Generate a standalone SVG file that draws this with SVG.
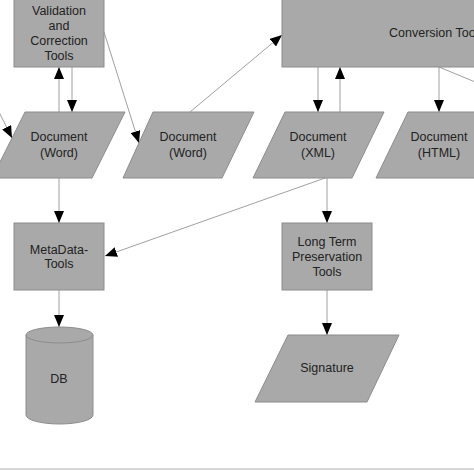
<svg xmlns="http://www.w3.org/2000/svg" width="474" height="474" viewBox="0 0 474 474">
<defs>
<marker id="ah" markerUnits="userSpaceOnUse" markerWidth="12" markerHeight="10" viewBox="0 0 12 10" refX="12" refY="5" orient="auto">
<path d="M0,0 L12,5 L0,10 Z" fill="#000"/>
</marker>
<style>
.n{fill:#a9a9a9;stroke:#8c8c8c;stroke-width:1}
.t{font-family:"Liberation Sans",Arial,sans-serif;font-size:12.5px;fill:#222;text-anchor:middle}
.c{fill:none;stroke:#a0a0a0;stroke-width:1}
.a{marker-end:url(#ah)}
</style>
</defs>
<rect width="474" height="474" fill="#fff"/>
<g id="connectors">
<line class="c a" x1="59" y1="112" x2="59" y2="67"/>
<line class="c a" x1="72" y1="67" x2="72" y2="112"/>
<line class="c a" x1="-6" y1="102" x2="12" y2="138"/>
<line class="c a" x1="104" y1="32" x2="139" y2="143"/>
<line class="c a" x1="190" y1="112" x2="282" y2="35"/>
<line class="c a" x1="318" y1="67" x2="318" y2="112"/>
<line class="c a" x1="340" y1="112" x2="340" y2="67"/>
<line class="c a" x1="439" y1="67" x2="439" y2="112"/>
<line class="c" x1="439" y1="67" x2="480" y2="84"/>
<line class="c a" x1="59" y1="178" x2="59" y2="223"/>
<line class="c a" x1="325" y1="178" x2="105" y2="256"/>
<line class="c a" x1="327" y1="178" x2="327" y2="223"/>
<line class="c a" x1="59" y1="290" x2="59" y2="327"/>
<line class="c a" x1="327" y1="290" x2="327" y2="335"/>
</g>
<g id="validation">
<rect class="n" x="14" y="-20" width="90" height="87"/>
<text class="t" x="59" y="15">Validation</text>
<text class="t" x="59" y="30">and</text>
<text class="t" x="59" y="45">Correction</text>
<text class="t" x="59" y="60">Tools</text>
</g>
<g id="conversion">
<rect class="n" x="282" y="-20" width="300" height="87"/>
<text class="t" x="389" y="37" style="text-anchor:start">Conversion Tools</text>
</g>
<g id="docword1">
<polygon class="n" points="25,112 125,112 92,178 -8,178"/>
<text class="t" x="59" y="141">Document</text>
<text class="t" x="59" y="157">(Word)</text>
</g>
<g id="docword2">
<polygon class="n" points="153,112 254,112 222,178 123,178"/>
<text class="t" x="188" y="141">Document</text>
<text class="t" x="188" y="157">(Word)</text>
</g>
<g id="docxml">
<polygon class="n" points="285,112 384,112 352,178 253,178"/>
<text class="t" x="318" y="141">Document</text>
<text class="t" x="318" y="157">(XML)</text>
</g>
<g id="dochtml">
<polygon class="n" points="408,112 508,112 476,178 376,178"/>
<text class="t" x="439" y="141">Document</text>
<text class="t" x="439" y="157">(HTML)</text>
</g>
<g id="metadata">
<rect class="n" x="14" y="223" width="90" height="67"/>
<text class="t" x="59" y="254">MetaData-</text>
<text class="t" x="59" y="268">Tools</text>
</g>
<g id="ltp">
<rect class="n" x="282" y="223" width="90" height="67"/>
<text class="t" x="327" y="246">Long Term</text>
<text class="t" x="327" y="261">Preservation</text>
<text class="t" x="327" y="276">Tools</text>
</g>
<g id="db">
<path class="n" d="M26,335 A33.5,8 0 0 1 93,335 L93,415 A33.5,9 0 0 1 26,415 Z"/>
<path class="c" d="M26,335 A33.5,8 0 0 0 93,335" style="stroke:#8c8c8c"/>
<text class="t" x="59" y="383">DB</text>
</g>
<g id="signature">
<polygon class="n" points="288,335 399,335 367,402 255,402"/>
<text class="t" x="327" y="372">Signature</text>
</g>
<line x1="0" y1="469" x2="474" y2="469" stroke="#c8c8c8" stroke-width="1.5"/>
</svg>
